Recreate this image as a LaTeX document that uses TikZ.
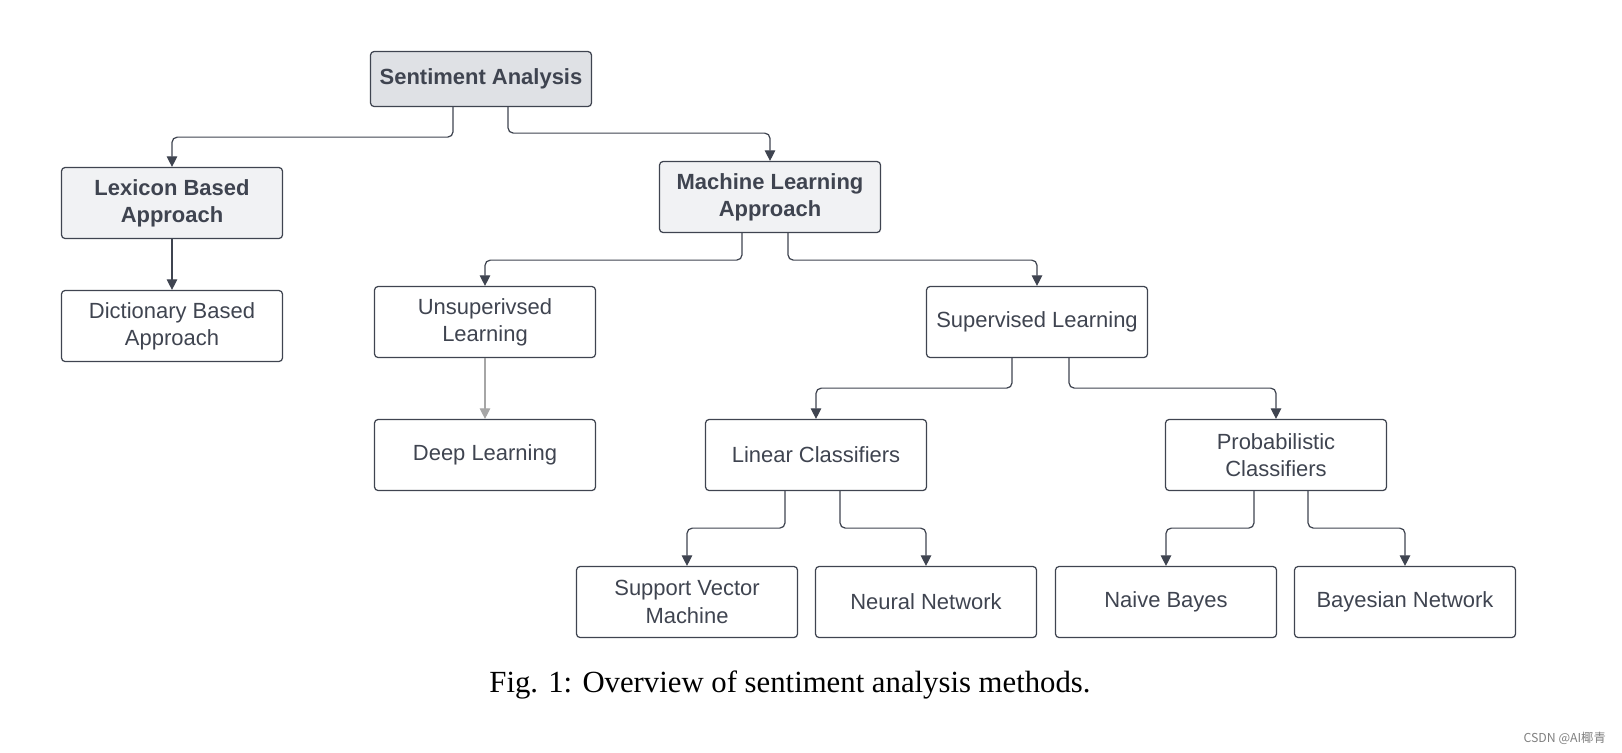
\documentclass[tikz,border=0pt]{standalone}
\usepackage{fontspec}
\setmainfont{Liberation Sans}
\newfontfamily\capfont{Liberation Serif}
\newfontfamily\cjk{Noto Sans CJK SC}
\usetikzlibrary{arrows.meta}
\definecolor{edgegray}{HTML}{3F4450}
\definecolor{topfill}{HTML}{DFE1E5}
\definecolor{subfill}{HTML}{F1F2F4}
\tikzset{
  box/.style={draw=edgegray,rounded corners=2pt,minimum width=4.42cm,minimum height=1.42cm,
    align=center,text=edgegray,font=\fontsize{12.5}{15.5}\selectfont,line width=0.7pt},
  headbox/.style={box,fill=subfill,font=\fontsize{12.5}{15.5}\selectfont\bfseries},
  link/.style={draw=edgegray,line width=0.7pt,rounded corners=3pt,-{Triangle[length=6pt,width=6pt]}}
}
\begin{document}
\begin{tikzpicture}[x=0.02cm,y=-0.02cm]
\useasboundingbox (0,0) rectangle (1622,752);

\node[headbox,fill=topfill,minimum height=1.1cm](sa) at (481,79) {Sentiment Analysis};
\node[headbox](lex) at (172,203) {Lexicon Based\\Approach};
\node[headbox](ml) at (770,197) {Machine Learning\\Approach};

\node[box](dict) at (172,326) {Dictionary Based\\Approach};
\node[box](unsup) at (485,322) {Unsuperivsed\\Learning};
\node[box](sup) at (1037,322) {Supervised Learning};
\node[box](deep) at (485,455) {Deep Learning};
\node[box](lin) at (816,455) {Linear Classifiers};
\node[box](prob) at (1276,455) {Probabilistic\\Classifiers};
\node[box](svm) at (687,602) {Support Vector\\Machine};
\node[box](nn) at (926,602) {Neural Network};
\node[box](nb) at (1166,602) {Naive Bayes};
\node[box](bn) at (1405,602) {Bayesian Network};

\node[font=\capfont\fontsize{17.5}{20}\selectfont](cap) at (790,685) {Fig. 1: Overview of sentiment analysis methods.};
\node[text=gray,font=\cjk\fontsize{7}{8}\selectfont,anchor=east](mark) at (1612,738) {CSDN @AI椰青};

\draw[link] ([xshift=-0.56cm]sa.south) -- ++(0,30) -| (lex);
\draw[link] ([xshift=0.54cm]sa.south) -- ++(0,26) -| (ml);
\draw[link] (lex) -- (dict);
\draw[link] ([xshift=-0.56cm]ml.south) -- ++(0,27) -| (unsup);
\draw[link] ([xshift=0.36cm]ml.south) -- ++(0,27) -| (sup);
\draw[link,draw=gray!70] (unsup) -- (deep);
\draw[link] ([xshift=-0.5cm]sup.south) -- ++(0,30) -| (lin);
\draw[link] ([xshift=0.64cm]sup.south) -- ++(0,30) -| (prob);
\draw[link] ([xshift=-0.62cm]lin.south) -- ++(0,37) -| (svm);
\draw[link] ([xshift=0.48cm]lin.south) -- ++(0,37) -| (nn);
\draw[link] ([xshift=-0.44cm]prob.south) -- ++(0,37) -| (nb);
\draw[link] ([xshift=0.64cm]prob.south) -- ++(0,37) -| (bn);

\end{tikzpicture}
\end{document}
